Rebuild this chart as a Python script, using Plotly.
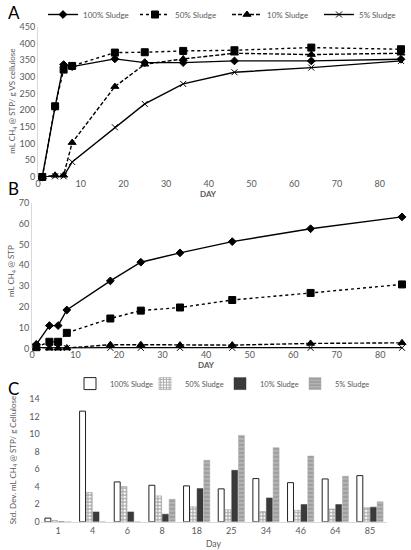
import plotly.graph_objects as go

# Sampling days (same for all three panels)
days = [1, 4, 6, 8, 18, 25, 34, 46, 64, 85]
day_labels = [str(d) for d in days]
series_names = ["100% Sludge", "50% Sludge", "10% Sludge", "5% Sludge"]

# Panel A: specific yield, mL CH4 @ STP / g VS cellulose
a_100 = [0, 210, 337, 331, 354, 343, 343, 348, 348, 353]
a_50 = [0, 212, 322, 333, 373, 374, 378, 380, 388, 383]
a_10 = [0, 5, 5, 103, 271, 338, 354, 371, 367, 371]
a_5 = [0, 2, 2, 45, 149, 219, 279, 314, 328, 348]

# Panel B: cumulative mL CH4 @ STP
b_100 = [2.0, 11.0, 11.0, 18.5, 32.5, 41.5, 46.0, 51.4, 57.6, 63.3]
b_50 = [0.6, 3.2, 3.2, 7.5, 14.4, 18.2, 19.7, 23.3, 26.7, 30.8]
b_10 = [0.3, 0.1, 0.1, 0.2, 1.8, 1.8, 1.6, 1.6, 2.4, 2.7]
b_5 = [0.4, 0.2, 0.2, 0.2, 0.3, 0.3, 0.3, 0.3, 0.3, 0.3]

# Panel C: standard deviations
c_100 = [0.42, 12.6, 4.54, 4.16, 4.09, 3.75, 4.92, 4.46, 4.88, 5.26]
c_50 = [0.15, 3.33, 4.01, 2.95, 1.70, 1.36, 1.17, 1.30, 1.45, 1.60]
c_10 = [0, 1.13, 1.13, 0.87, 3.78, 5.86, 2.72, 1.97, 1.97, 1.67]
c_5 = [0, 0, 0, 2.57, 7.00, 9.84, 8.44, 7.49, 5.18, 2.27]

FONT = "Lato, 'Liberation Sans', sans-serif"
GREY = "#595959"
AXIS = "#d9d9d9"
W, H = 411, 550


def px_x(p):
    return max(0.0, p / W)


def px_y(p):
    return 1 - p / H


line_styles = [
    dict(dash="solid", symbol="diamond", size=6),
    dict(dash="dot", symbol="square", size=7),
    dict(dash="4px,2px", symbol="triangle-up", size=7),
    dict(dash="solid", symbol="x-thin-open", size=6),
]

fig = go.Figure()

# -----------------------------
# Panels A and B (lines)
# -----------------------------
for panel, series, show in [("", [a_100, a_50, a_10, a_5], True),
                            ("2", [b_100, b_50, b_10, b_5], False)]:
    for name, vals, st in zip(series_names, series, line_styles):
        fig.add_trace(go.Scatter(
            x=days, y=vals, name=name, mode="lines+markers",
            xaxis="x" + panel, yaxis="y" + panel, cliponaxis=False,
            line=dict(color="black", width=1.4, dash=st["dash"]),
            marker=dict(symbol=st["symbol"], size=st["size"], color="black",
                        line=dict(color="black", width=1)),
            showlegend=show, legend="legend",
        ))

# -----------------------------
# Panel C (bars)
# -----------------------------
bar_styles = [
    dict(color="white", line=dict(color="#222", width=1)),
    dict(color="white", line=dict(color="#888", width=0.5),
         pattern=dict(shape="+", fgcolor="#555555", bgcolor="white", size=3.5, solidity=0.55)),
    dict(color="#3a3a3a", line=dict(color="#3a3a3a", width=0.5)),
    dict(color="#a6a6a6", line=dict(color="#a6a6a6", width=0.5),
         pattern=dict(shape="-", fgcolor="#8a8a8a", bgcolor="#b3b3b3", size=4, solidity=0.5)),
]
for name, vals, st in zip(series_names, [c_100, c_50, c_10, c_5], bar_styles):
    fig.add_trace(go.Bar(
        x=day_labels, y=vals, name=name, xaxis="x3", yaxis="y3",
        marker=st, legend="legend2",
    ))

tick = dict(family=FONT, size=9, color=GREY)
common_x = dict(showgrid=False, zeroline=False, ticks="", tickfont=tick, automargin=False)
common_y = dict(showgrid=False, zeroline=False, ticks="", tickfont=tick, automargin=False,
                showline=True, linecolor=AXIS, linewidth=1)

fig.update_layout(
    width=W, height=H,
    margin=dict(l=0, r=0, t=0, b=0),
    paper_bgcolor="white", plot_bgcolor="white",
    font=dict(family=FONT, color=GREY),
    barmode="group", bargap=0.22, bargroupgap=0.12,
    xaxis=dict(common_x, domain=[px_x(38), px_x(401)], range=[0, 85], dtick=10,
               anchor="y", showline=False),
    yaxis=dict(common_y, domain=[px_y(175.6), px_y(25)], range=[0, 450], dtick=50,
               anchor="x"),
    xaxis2=dict(common_x, domain=[px_x(32), px_x(402)], range=[0, 85], dtick=10,
                anchor="y2", showline=False),
    yaxis2=dict(common_y, domain=[px_y(347.7), px_y(201.7)], range=[0, 70], dtick=10,
                anchor="x2"),
    xaxis3=dict(common_x, domain=[px_x(40.7), px_x(387.3)], anchor="y3",
                showline=True, linecolor=AXIS, linewidth=1, type="category"),
    yaxis3=dict(common_y, domain=[px_y(521.7), px_y(398.3)], range=[0, 14], dtick=2,
                anchor="x3", showline=False),
    legend=dict(orientation="h", x=px_x(57), xanchor="left", y=px_y(12.5), yanchor="middle",
                font=dict(family=FONT, size=8, color=GREY), itemwidth=30,
                entrywidth=47, bgcolor="rgba(0,0,0,0)", tracegroupgap=0),
    legend2=dict(orientation="h", x=px_x(70), xanchor="left", y=px_y(383), yanchor="middle",
                 font=dict(family=FONT, size=7.5, color=GREY), itemwidth=30,
                 entrywidth=30, bgcolor="rgba(0,0,0,0)"),
)

notes = [
    # panel letters
    dict(text="A", x=px_x(6), y=px_y(11), size=17, color="black", angle=0, xanchor="left"),
    dict(text="B", x=px_x(6), y=px_y(187), size=17, color="black", angle=0, xanchor="left"),
    dict(text="C", x=px_x(6), y=px_y(388), size=17, color="black", angle=0, xanchor="left"),
    # axis titles
    dict(text="mL CH<sub>4</sub> @ STP/ g VS cellulose", x=px_x(13), y=px_y(100),
         size=8, color=GREY, angle=-90, xanchor="center"),
    dict(text="mL CH<sub>4</sub> @ STP", x=px_x(11), y=px_y(270),
         size=8, color=GREY, angle=-90, xanchor="center"),
    dict(text="Std. Dev. mL CH<sub>4</sub> @ STP/ g Cellulose", x=px_x(13), y=px_y(460),
         size=8, color=GREY, angle=-90, xanchor="center"),
    dict(text="<b>DAY</b>", x=px_x(208), y=px_y(193), size=8, color=GREY, angle=0,
         xanchor="center"),
    dict(text="<b>DAY</b>", x=px_x(206), y=px_y(364), size=8, color=GREY, angle=0,
         xanchor="center"),
    dict(text="Day", x=px_x(213), y=px_y(544), size=8.5, color=GREY, angle=0,
         xanchor="center"),
]
for n in notes:
    fig.add_annotation(text=n["text"], x=n["x"], y=n["y"], xref="paper", yref="paper",
                       showarrow=False, textangle=n["angle"], xanchor=n["xanchor"],
                       yanchor="middle",
                       font=dict(family=FONT, size=n["size"], color=n["color"]))

# drop the browser's default 8px body margin so the figure sits at the page corner
fig.write_html("out.html", config={"displayModeBar": False},
               post_script="document.body.style.margin='0';")
